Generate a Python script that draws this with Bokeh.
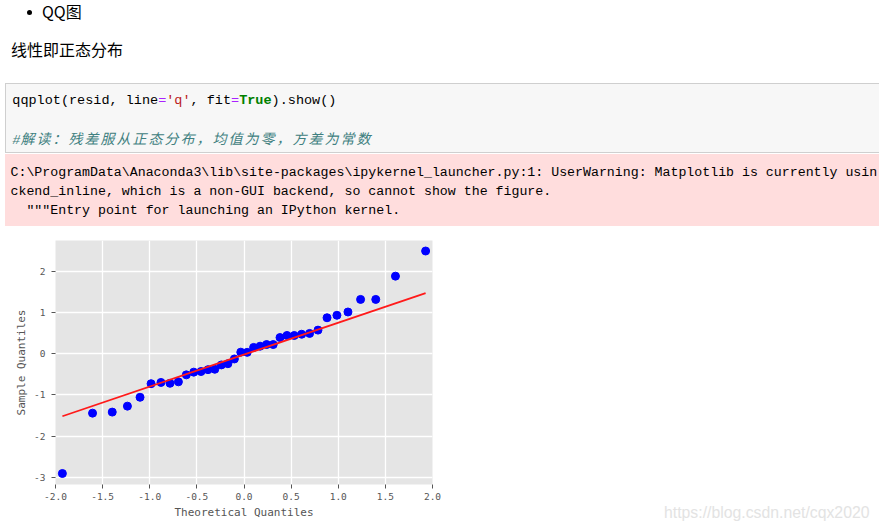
from bokeh.plotting import figure
from bokeh.models import Div, FixedTicker
from bokeh.layouts import column, row
from bokeh.embed import file_html
from bokeh.resources import INLINE

# ---------------- data ----------------
theoretical_q = [-1.927, -1.607, -1.398, -1.237, -1.103, -0.986, -0.881, -0.785, -0.696,
                 -0.612, -0.533, -0.456, -0.382, -0.310, -0.240, -0.171, -0.102, -0.034,
                 0.034, 0.102, 0.171, 0.240, 0.310, 0.382, 0.456, 0.533, 0.612,
                 0.696, 0.785, 0.881, 0.986, 1.103, 1.237, 1.398, 1.607, 1.927]
sample_q = [-2.91, -1.445, -1.42, -1.275, -1.06, -0.73, -0.70, -0.72, -0.685,
            -0.516, -0.45, -0.435, -0.39, -0.38, -0.275, -0.245, -0.13, 0.035,
            0.03, 0.15, 0.18, 0.22, 0.22, 0.39, 0.44, 0.44, 0.47,
            0.49, 0.57, 0.87, 0.93, 1.01, 1.315, 1.315, 1.88, 2.49]
fit_x = [-1.927, 1.927]
fit_y = [-1.52, 1.47]

x_ticks = [-2.0, -1.5, -1.0, -0.5, 0.0, 0.5, 1.0, 1.5, 2.0]
x_tick_labels = ["-2.0", "-1.5", "-1.0", "-0.5", "0.0", "0.5", "1.0", "1.5", "2.0"]
y_ticks = [-3, -2, -1, 0, 1, 2]
y_tick_labels = ["-3", "-2", "-1", "0", "1", "2"]

x_label = "Theoretical Quantiles"
y_label = "Sample Quantiles"

bullet_text = "QQ图"
para_text = "线性即正态分布"
comment_hash = "#"
comment_text = "解读：残差服从正态分布，均值为零，方差为常数"
warn_lines = [
    "C:\\ProgramData\\Anaconda3\\lib\\site-packages\\ipykernel_launcher.py:1: UserWarning: Matplotlib is currently usin",
    "ckend_inline, which is a non-GUI backend, so cannot show the figure.",
    "  \"\"\"Entry point for launching an IPython kernel.",
]
watermark = "https://blog.csdn.net/cqx2020"

# ---------------- page header (notebook cells) ----------------
MONO = "'Liberation Mono','Noto Sans CJK SC',monospace"
CJK = "'Noto Sans CJK SC',sans-serif"

def esc(s):
    return s.replace("&", "&amp;").replace("<", "&lt;").replace(">", "&gt;")

code_html = (
    '<span style="color:#000">qqplot(resid, line</span>'
    '<span style="color:#AA22FF">=</span>'
    '<span style="color:#BA2121">\'q\'</span>'
    '<span style="color:#000">, fit</span>'
    '<span style="color:#AA22FF">=</span>'
    '<span style="color:#008000;font-weight:bold">True</span>'
    '<span style="color:#000">).show()</span>'
)

header_html = f"""
<div style="position:relative;width:879px;height:235px;">
  <div style="position:absolute;left:27px;top:10px;width:5px;height:5px;border-radius:50%;background:#000"></div>
  <div style="position:absolute;left:42px;top:1px;font-family:{CJK};font-size:16px;line-height:20px;color:#000;white-space:nowrap">{bullet_text}</div>
  <div style="position:absolute;left:11px;top:39px;font-family:{CJK};font-size:16px;line-height:20px;color:#000;white-space:nowrap">{para_text}</div>
  <div style="position:absolute;left:5px;top:83px;width:874px;height:70px;box-sizing:border-box;border:1px solid #cfcfcf;border-right:none;background:#f7f7f7"></div>
  <div style="position:absolute;left:12.3px;top:93px;font-family:{MONO};font-size:13.5px;line-height:16px;white-space:pre">{code_html}</div>
  <div style="position:absolute;left:12.3px;top:130px;font-family:{MONO};font-size:13.5px;line-height:16px;white-space:pre;color:#408080;font-style:italic">{comment_hash}<span style="font-family:{CJK};font-size:14px;letter-spacing:2px">{comment_text}</span></div>
  <div style="position:absolute;left:5px;top:154px;width:874px;height:72px;background:#ffdddd;overflow:hidden">
    <div style="position:absolute;left:5.5px;top:9px;font-family:{MONO};font-size:13.25px;line-height:19px;white-space:pre;color:#000">{'<br>'.join(esc(l) for l in warn_lines)}</div>
  </div>
</div>
"""
header = Div(text=header_html, width=879, height=235, margin=0)

# ---------------- QQ plot ----------------
p = figure(width=444, height=296, x_range=(-2.0, 2.0), y_range=(-3.177, 2.745),
           output_backend="svg", toolbar_location=None,
           min_border_left=55, min_border_right=12, min_border_top=5, min_border_bottom=47)
p.background_fill_color = "#e5e5e5"
p.border_fill_color = "white"
p.outline_line_color = None

p.scatter(theoretical_q, sample_q, size=8, fill_color="#0000ff", line_color="#0000ff")
p.line(fit_x, fit_y, line_color="#ff1a1a", line_width=1.8)

p.xaxis.ticker = FixedTicker(ticks=x_ticks)
p.yaxis.ticker = FixedTicker(ticks=y_ticks)
p.xaxis.major_label_overrides = {t: l for t, l in zip(x_ticks, x_tick_labels)}
p.yaxis.major_label_overrides = {t: l for t, l in zip(y_ticks, y_tick_labels)}
p.xaxis.axis_label = x_label
p.yaxis.axis_label = y_label

for ax in (p.xaxis[0], p.yaxis[0]):
    ax.axis_line_color = None
    ax.major_tick_line_color = "#555555"
    ax.major_tick_out = 4
    ax.major_tick_in = 0
    ax.minor_tick_line_color = None
    ax.major_label_text_font = "DejaVu Sans Mono"
    ax.major_label_text_font_size = "9.5px"
    ax.major_label_text_color = "#555555"
    ax.axis_label_text_font = "DejaVu Sans Mono"
    ax.axis_label_text_font_size = "11px"
    ax.axis_label_text_font_style = "normal"
    ax.axis_label_text_color = "#555555"
p.xaxis.major_label_standoff = 4
p.xaxis.axis_label_standoff = 3
p.yaxis.major_label_standoff = 6
p.yaxis.axis_label_standoff = 3

p.xgrid.grid_line_color = "white"
p.ygrid.grid_line_color = "white"
p.xgrid.grid_line_width = 1.3
p.ygrid.grid_line_width = 1.3

wm_html = f"""
<div style="position:relative;width:435px;height:296px;">
  <div style="position:absolute;left:220px;top:269px;font-family:'Liberation Sans',Arial,sans-serif;font-size:15.8px;line-height:18px;color:#e3e3e3;white-space:nowrap">{watermark}</div>
</div>
"""
wm = Div(text=wm_html, width=435, height=296, margin=0)

layout = column(header, row(p, wm, spacing=0), spacing=0)

open("out.html", "w").write(file_html(layout, INLINE))
